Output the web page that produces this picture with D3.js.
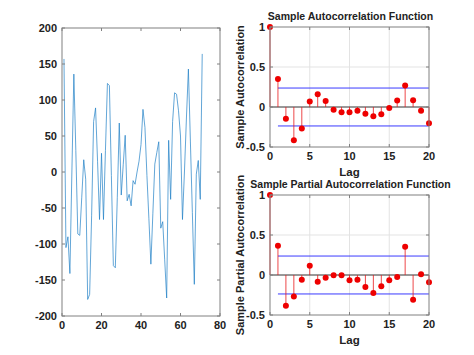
<!DOCTYPE html>
<html>
<head>
<meta charset="utf-8">
<script src="https://cdn.jsdelivr.net/npm/d3@7"></script>
<style>
  body { margin: 0; background: #fff; }
  svg text { font-family: "Liberation Sans", Arial, sans-serif; font-weight: bold; fill: #222; }
</style>
</head>
<body>
<svg id="svg1" width="474" height="355"></svg>
<script>
// series shown in left panel (t = 1..71)
var seriesVals = [157, -105, -90, -141, 0, 136, 30, -86, -88, -35,
  17, -10, -177, -170, -60, 70, 89, 15, -66, 26,
  -66, 30, 123, 120, -5, -130, -133, -35, 68, -32,
  10, 51, -40, -31, -47, -12, -17, 0, 15, 38,
  87, 62, -5, -65, -128, -58, 11, 27, 42, -78,
  -69, -122, -175, 44, -38, 70, 110, 108, 85, 50,
  -66, 0, 75, 143, 43, -56, -156, -3, 16, -38, 164];

var lags = d3.range(0, 21);
var acfVals = [1, 0.35, -0.146, -0.417, -0.27, 0.07, 0.16, 0.075, -0.033, -0.067,
  -0.067, -0.046, -0.083, -0.117, -0.092, -0.013, 0.08, 0.27, 0.083, -0.046, -0.204];
var pacfVals = [1, 0.367, -0.383, -0.27, -0.058, 0.117, -0.083, -0.033, -0.004, -0.004,
  -0.067, -0.058, -0.15, -0.225, -0.142, -0.067, -0.025, 0.354, -0.31, 0.008, -0.092];
var confBound = 0.237;

var leftXTicks = [0, 20, 40, 60, 80];
var leftYTicks = [-200, -150, -100, -50, 0, 50, 100, 150, 200];
var lagTicks = [0, 5, 10, 15, 20];
var corrTicks = [-0.5, 0, 0.5, 1];

var svg = d3.select("#svg1");
var boxColor = "#808080";

function frame(g, w, h) {
  g.append("rect").attr("width", w).attr("height", h)
   .attr("fill", "none").attr("stroke", boxColor).attr("stroke-width", 1);
}

// inner ticks on all four sides, MATLAB style
function innerTicks(g, x, y, w, h, xt, yt) {
  xt.forEach(function(v) {
    g.append("line").attr("x1", x(v)).attr("x2", x(v)).attr("y1", h).attr("y2", h - 3).attr("stroke", boxColor);
    g.append("line").attr("x1", x(v)).attr("x2", x(v)).attr("y1", 0).attr("y2", 3).attr("stroke", boxColor);
  });
  yt.forEach(function(v) {
    g.append("line").attr("x1", 0).attr("x2", 3).attr("y1", y(v)).attr("y2", y(v)).attr("stroke", boxColor);
    g.append("line").attr("x1", w).attr("x2", w - 3).attr("y1", y(v)).attr("y2", y(v)).attr("stroke", boxColor);
  });
}

function tickLabels(g, x, y, h, xt, yt, fmt) {
  g.selectAll(".xl").data(xt).enter().append("text")
   .attr("x", function(d) { return x(d); })
   .attr("y", h + 13)
   .attr("text-anchor", "middle")
   .attr("font-size", "11px")
   .text(function(d) { return d; });
  g.selectAll(".yl").data(yt).enter().append("text")
   .attr("x", -5)
   .attr("y", function(d) { return y(d) + 4; })
   .attr("text-anchor", "end")
   .attr("font-size", "11px")
   .text(fmt);
}

// ---- left panel: raw series
var L = {x: 62, y: 28, w: 158, h: 288};
var gl = svg.append("g").attr("transform", "translate(" + L.x + "," + L.y + ")");
var xL = d3.scaleLinear().domain([0, 80]).range([0, L.w]);
var yL = d3.scaleLinear().domain([-200, 200]).range([L.h, 0]);

gl.append("path")
  .datum(seriesVals)
  .attr("fill", "none")
  .attr("stroke", "#1f7fc6")
  .attr("stroke-width", 0.7)
  .attr("d", d3.line()
    .x(function(d, i) { return xL(i + 1); })
    .y(function(d) { return yL(d); }));

frame(gl, L.w, L.h);
innerTicks(gl, xL, yL, L.w, L.h, leftXTicks, leftYTicks);
tickLabels(gl, xL, yL, L.h, leftXTicks, leftYTicks, function(d) { return d; });

// ---- right panels: stem plots
function stemPanel(top, vals, title, ylabel) {
  var P = {x: 270, y: top, w: 159, h: 120};
  var g = svg.append("g").attr("transform", "translate(" + P.x + "," + P.y + ")");
  var x = d3.scaleLinear().domain([0, 20]).range([0, P.w]);
  var y = d3.scaleLinear().domain([-0.5, 1]).range([P.h, 0]);

  // grid
  lagTicks.slice(1, -1).forEach(function(v) {
    g.append("line").attr("x1", x(v)).attr("x2", x(v)).attr("y1", 0).attr("y2", P.h)
     .attr("stroke", "#e3e3e3");
  });
  [0.5].forEach(function(v) {
    g.append("line").attr("x1", 0).attr("x2", P.w).attr("y1", y(v)).attr("y2", y(v))
     .attr("stroke", "#e3e3e3");
  });

  // confidence bounds
  [confBound, -confBound].forEach(function(b) {
    g.append("line").attr("x1", x(1)).attr("x2", x(20)).attr("y1", y(b)).attr("y2", y(b))
     .attr("stroke", "#3a3aff").attr("stroke-width", 1);
  });

  // baseline
  g.append("line").attr("x1", 0).attr("x2", P.w).attr("y1", y(0)).attr("y2", y(0))
   .attr("stroke", "#333").attr("stroke-width", 1);

  g.selectAll(".stem").data(vals).enter().append("line")
   .attr("x1", function(d, i) { return x(lags[i]); })
   .attr("x2", function(d, i) { return x(lags[i]); })
   .attr("y1", y(0))
   .attr("y2", function(d) { return y(d); })
   .attr("stroke", "#e8191c").attr("stroke-width", 0.8);

  g.selectAll(".dot").data(vals).enter().append("circle")
   .attr("cx", function(d, i) { return x(lags[i]); })
   .attr("cy", function(d) { return y(d); })
   .attr("r", 3)
   .attr("fill", "#ee0000");

  frame(g, P.w, P.h);
  innerTicks(g, x, y, P.w, P.h, lagTicks, corrTicks);
  tickLabels(g, x, y, P.h, lagTicks, corrTicks, function(d) { return d; });

  g.append("text").attr("x", P.w / 2 + 1).attr("y", -7)
   .attr("text-anchor", "middle").attr("font-size", "10.5px").attr("fill", "#000")
   .text(title);
  g.append("text").attr("x", P.w / 2).attr("y", P.h + 29)
   .attr("text-anchor", "middle").attr("font-size", "11.5px")
   .text("Lag");
  g.append("text")
   .attr("transform", "translate(-26," + (P.h / 2) + ") rotate(-90)")
   .attr("text-anchor", "middle").attr("font-size", "11px")
   .text(ylabel);
}

stemPanel(27, acfVals, "Sample Autocorrelation Function", "Sample Autocorrelation");
stemPanel(195, pacfVals, "Sample Partial Autocorrelation Function", "Sample Partial Autocorrelation");
</script>
</body>
</html>
